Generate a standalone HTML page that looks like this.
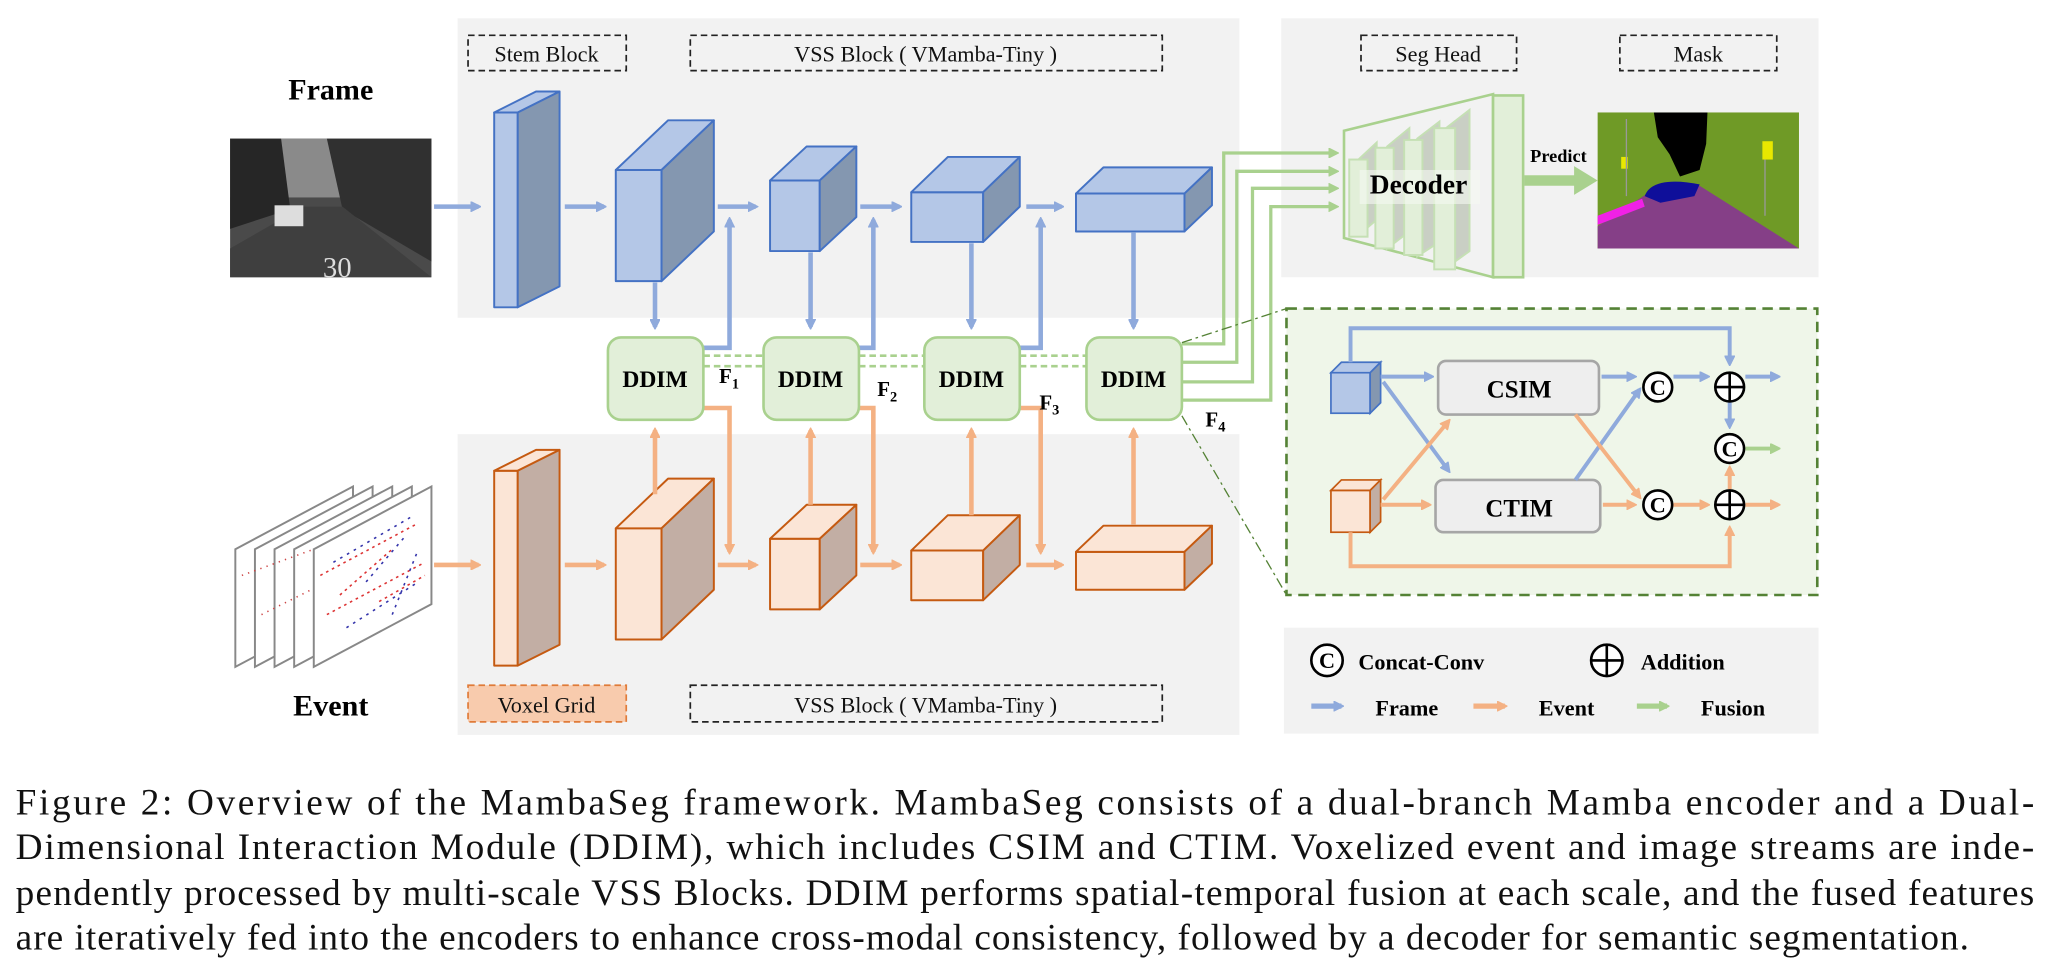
<!DOCTYPE html>
<html><head><meta charset="utf-8"><style>
html,body{margin:0;padding:0;background:#fff;}
svg{display:block;}
text{font-family:"Liberation Serif",serif;}
</style></head><body>
<svg width="2050" height="969" viewBox="0 0 1568 741" preserveAspectRatio="none" xmlns="http://www.w3.org/2000/svg">
<defs>
<marker id="ab" markerWidth="8" markerHeight="8" refX="6" refY="4" orient="auto" markerUnits="userSpaceOnUse"><path d="M0,0 L8,4 L0,8 L2,4 Z" fill="#8faadc" transform="scale(1.6) translate(-2.5,-1.5)"/></marker>
<marker id="ao" markerWidth="8" markerHeight="8" refX="6" refY="4" orient="auto" markerUnits="userSpaceOnUse"><path d="M0,0 L8,4 L0,8 L2,4 Z" fill="#f4b183" transform="scale(1.6) translate(-2.5,-1.5)"/></marker>
<marker id="ag" markerWidth="8" markerHeight="8" refX="6" refY="4" orient="auto" markerUnits="userSpaceOnUse"><path d="M0,0 L8,4 L0,8 L2,4 Z" fill="#a9d18e" transform="scale(1.6) translate(-2.5,-1.5)"/></marker>
</defs>
<rect width="1568" height="741" fill="#fff"/>
<rect x="350" y="14" width="598" height="229" fill="#f2f2f2"/>
<rect x="350" y="332" width="598" height="230" fill="#f2f2f2"/>
<rect x="980" y="14" width="411" height="198" fill="#f2f2f2"/>
<rect x="982" y="480" width="409" height="81" fill="#f2f2f2"/>
<rect x="984" y="236" width="406" height="219" fill="#eff6e9" stroke="#548235" stroke-width="2" stroke-dasharray="8,5"/>
<g fill="none" stroke="#222" stroke-width="1.3" stroke-dasharray="5,3">
<rect x="358" y="27" width="121" height="27"/><rect x="528" y="27" width="361" height="27"/>
<rect x="1041" y="27" width="119" height="27"/><rect x="1239" y="27" width="120" height="27"/>
<rect x="528" y="524" width="361" height="28"/>
</g>
<rect x="358" y="524" width="121" height="28" fill="#f8cbad" stroke="#e07b39" stroke-width="1.3" stroke-dasharray="5,3"/>
<g font-size="17" text-anchor="middle" fill="#111">
<text x="418" y="47">Stem Block</text><text x="708" y="47">VSS Block ( VMamba-Tiny )</text>
<text x="1100" y="47">Seg Head</text><text x="1299" y="47">Mask</text>
<text x="418" y="545">Voxel Grid</text><text x="708" y="545">VSS Block ( VMamba-Tiny )</text>
</g>
<text x="253" y="76" font-size="23" font-weight="bold" text-anchor="middle">Frame</text>
<text x="253" y="547" font-size="23" font-weight="bold" text-anchor="middle">Event</text>
<rect x="176" y="106" width="154" height="106" fill="#4a4a4a"/>
<rect x="176" y="106" width="154" height="45" fill="#8a8a8a"/>
<polygon points="176,106 215,106 222,160 176,175" fill="#262626"/>
<polygon points="250,106 330,106 330,200 262,160" fill="#303030"/>
<polygon points="176,190 232,158 262,158 330,212 176,212" fill="#3f3f3f"/>
<rect x="210" y="157" width="22" height="16" fill="#ddd"/>
<text x="247" y="212" font-size="22" fill="#ddd" font-family="Liberation Sans,sans-serif">30</text>
<g stroke="#888" stroke-width="1.5" fill="#fff">
<polygon points="180,420 270,372 270,462 180,510"/>
<polygon points="195,420 285,372 285,462 195,510"/>
<polygon points="210,420 300,372 300,462 210,510"/>
<polygon points="225,420 315,372 315,462 225,510"/>
<polygon points="240,420 330,372 330,462 240,510"/>
</g>
<g stroke-width="1.2">
<path d="M245,440 L320,400 M250,470 L325,430 M260,455 L300,420 M290,460 L325,440" stroke="#d33" stroke-dasharray="2,3"/>
<path d="M255,430 L315,395 M265,480 L320,445 M280,445 L310,410 M300,470 L320,420" stroke="#33a" stroke-dasharray="2,4"/>
<path d="M185,440 L240,420 M200,470 L240,450" stroke="#c44" stroke-dasharray="1,4"/>
</g>
<g stroke="#4472c4" stroke-width="1.5" stroke-linejoin="round">
<rect x="378" y="86" width="18" height="149" fill="#b4c7e7"/><polygon points="378,86 410,70 428,70 396,86" fill="#b4c7e7"/><polygon points="396,86 428,70 428,219 396,235" fill="#8497b0"/>
<rect x="471" y="130" width="35" height="85" fill="#b4c7e7"/><polygon points="471,130 511,92 546,92 506,130" fill="#b4c7e7"/><polygon points="506,130 546,92 546,177 506,215" fill="#8497b0"/>
<rect x="589" y="138" width="38" height="54" fill="#b4c7e7"/><polygon points="589,138 617,112 655,112 627,138" fill="#b4c7e7"/><polygon points="627,138 655,112 655,166 627,192" fill="#8497b0"/>
<rect x="697" y="147" width="55" height="38" fill="#b4c7e7"/><polygon points="697,147 725,120 780,120 752,147" fill="#b4c7e7"/><polygon points="752,147 780,120 780,158 752,185" fill="#8497b0"/>
<rect x="823" y="148" width="83" height="29" fill="#b4c7e7"/><polygon points="823,148 844,128 927,128 906,148" fill="#b4c7e7"/><polygon points="906,148 927,128 927,157 906,177" fill="#8497b0"/>
</g>
<g stroke="#c55a11" stroke-width="1.5" stroke-linejoin="round" transform="translate(0,274)">
<rect x="378" y="86" width="18" height="149" fill="#fbe5d6"/><polygon points="378,86 410,70 428,70 396,86" fill="#fbe5d6"/><polygon points="396,86 428,70 428,219 396,235" fill="#c2aea4"/>
<rect x="471" y="130" width="35" height="85" fill="#fbe5d6"/><polygon points="471,130 511,92 546,92 506,130" fill="#fbe5d6"/><polygon points="506,130 546,92 546,177 506,215" fill="#c2aea4"/>
<rect x="589" y="138" width="38" height="54" fill="#fbe5d6"/><polygon points="589,138 617,112 655,112 627,138" fill="#fbe5d6"/><polygon points="627,138 655,112 655,166 627,192" fill="#c2aea4"/>
<rect x="697" y="147" width="55" height="38" fill="#fbe5d6"/><polygon points="697,147 725,120 780,120 752,147" fill="#fbe5d6"/><polygon points="752,147 780,120 780,158 752,185" fill="#c2aea4"/>
<rect x="823" y="148" width="83" height="29" fill="#fbe5d6"/><polygon points="823,148 844,128 927,128 906,148" fill="#fbe5d6"/><polygon points="906,148 927,128 927,157 906,177" fill="#c2aea4"/>
</g>
<g stroke="#8faadc" stroke-width="3.5" fill="none" marker-end="url(#ab)">
<path d="M332,158 L366,158"/><path d="M432,158 L462,158"/><path d="M549,158 L578,158"/><path d="M658,158 L688,158"/><path d="M785,158 L812,158"/>
<path d="M501,216 L501,250"/><path d="M620,193 L620,250"/><path d="M743,186 L743,250"/><path d="M867,178 L867,250"/>
<path d="M538,266 L558,266 L558,168"/><path d="M657,266 L668,266 L668,168"/><path d="M780,266 L796,266 L796,168"/>
</g>
<g stroke="#f4b183" stroke-width="3.5" fill="none" marker-end="url(#ao)">
<path d="M332,432 L366,432"/><path d="M432,432 L462,432"/><path d="M549,432 L578,432"/><path d="M658,432 L688,432"/><path d="M785,432 L812,432"/>
<path d="M501,378 L501,329"/><path d="M620,386 L620,329"/><path d="M743,394 L743,329"/><path d="M867,401 L867,329"/>
<path d="M538,312 L558,312 L558,422"/><path d="M657,312 L668,312 L668,422"/><path d="M780,312 L796,312 L796,422"/>
</g>
<g stroke="#a9d18e" stroke-width="2" stroke-dasharray="5,3">
<path d="M538,272 L584,272 M538,280 L584,280 M657,272 L707,272 M657,280 L707,280 M780,272 L831,272 M780,280 L831,280"/>
</g>
<g fill="#e2efd9" stroke="#a9d18e" stroke-width="2">
<rect x="465" y="258" width="73" height="63" rx="10"/><rect x="584" y="258" width="73" height="63" rx="10"/>
<rect x="707" y="258" width="73" height="63" rx="10"/><rect x="831" y="258" width="73" height="63" rx="10"/>
</g>
<g font-size="18" font-weight="bold" text-anchor="middle">
<text x="501" y="296">DDIM</text><text x="620" y="296">DDIM</text><text x="743" y="296">DDIM</text><text x="867" y="296">DDIM</text>
</g>
<g font-size="16" font-weight="bold">
<text x="550" y="293">F<tspan font-size="11" dy="4">1</tspan></text>
<text x="671" y="303">F<tspan font-size="11" dy="4">2</tspan></text>
<text x="795" y="313">F<tspan font-size="11" dy="4">3</tspan></text>
<text x="922" y="326">F<tspan font-size="11" dy="4">4</tspan></text>
</g>
<g stroke="#a9d18e" stroke-width="2.5" fill="none" marker-end="url(#ag)">
<path d="M904,263 L936,263 L936,117 L1022,117"/>
<path d="M904,277 L946,277 L946,131 L1022,131"/>
<path d="M904,292 L958,292 L958,144 L1022,144"/>
<path d="M904,306 L972,306 L972,158 L1022,158"/>
</g>
<g stroke="#548235" stroke-width="1" stroke-dasharray="8,3,2,3" fill="none">
<path d="M904,262 L984,236"/><path d="M904,318 L984,455"/>
</g>
<polygon points="1028,100 1142,72 1142,212 1028,182" fill="#f2f2f2" stroke="#a9d18e" stroke-width="2"/>
<rect x="1142" y="73" width="23" height="139" fill="#e2efd9" stroke="#a9d18e" stroke-width="2"/>
<g stroke="#c5e0b4" stroke-width="1.5">
<polygon points="1039,122 1053,109 1053,168 1039,180" fill="#c9cfc4"/><rect x="1032" y="122" width="14" height="59" fill="#e2efd9"/>
<polygon points="1061,112 1078,98 1078,177 1061,190" fill="#c9cfc4"/><rect x="1052" y="113" width="14" height="77" fill="#e2efd9"/>
<polygon points="1084,106 1101,93 1101,185 1084,196" fill="#c9cfc4"/><rect x="1074" y="107" width="14" height="88" fill="#e2efd9"/>
<polygon points="1106,98 1124,84 1124,192 1106,205" fill="#c9cfc4"/><rect x="1097" y="98" width="16" height="108" fill="#e2efd9"/>
</g>
<rect x="1040" y="130" width="92" height="26" fill="#f5f9f2" opacity="0.6"/>
<text x="1085" y="148" font-size="21" font-weight="bold" text-anchor="middle">Decoder</text>
<text x="1192" y="124" font-size="14" font-weight="bold" text-anchor="middle">Predict</text>
<path d="M1166,138 L1206,138" stroke="#a9d18e" stroke-width="8"/>
<polygon points="1204,127 1222,138 1204,149" fill="#a9d18e"/>
<rect x="1222" y="86" width="154" height="104" fill="#6f9a26"/>
<path d="M1265,86 L1306,86 L1305,110 L1300,130 L1285,135 L1277,118 L1268,105 Z" fill="#000"/>
<polygon points="1222,173 1260,148 1300,142 1376,190 1222,190" fill="#853f87"/>
<polygon points="1222,165 1256,152 1258,158 1222,172" fill="#f021e6"/>
<path d="M1258,150 C1262,138 1280,137 1300,141 L1296,150 L1270,155 Z" fill="#0f0f9a"/>
<rect x="1348" y="108" width="8" height="14" fill="#e8e800"/><rect x="1240" y="120" width="5" height="9" fill="#e8e800"/>
<path d="M1244,91 L1244,150 M1350,122 L1350,165" stroke="#999" stroke-width="1"/>
<g stroke="#4472c4" stroke-width="1.3"><rect x="1018" y="285" width="30" height="31" fill="#b4c7e7"/><polygon points="1018,285 1026,277 1056,277 1048,285" fill="#b4c7e7"/><polygon points="1048,285 1056,277 1056,308 1048,316" fill="#8497b0"/></g>
<g stroke="#c55a11" stroke-width="1.3"><rect x="1018" y="375" width="30" height="32" fill="#fbe5d6"/><polygon points="1018,375 1026,367 1056,367 1048,375" fill="#fbe5d6"/><polygon points="1048,375 1056,367 1056,399 1048,407" fill="#c2aea4"/></g>
<g fill="#eeeeee" stroke="#a6a6a6" stroke-width="2"><rect x="1100" y="276" width="123" height="41" rx="6"/><rect x="1098" y="367" width="126" height="40" rx="6"/></g>
<text x="1162" y="304" font-size="19" font-weight="bold" text-anchor="middle">CSIM</text>
<text x="1162" y="395" font-size="19" font-weight="bold" text-anchor="middle">CTIM</text>
<g stroke="#8faadc" stroke-width="3" fill="none">
<path d="M1033,277 L1033,251 L1323,251 L1323,278" marker-end="url(#ab)"/>
<path d="M1056,288 L1095,288" marker-end="url(#ab)"/>
<path d="M1058,292 L1108,360" marker-end="url(#ab)"/>
<path d="M1225,288 L1250,288" marker-end="url(#ab)"/>
<path d="M1205,367 L1254,298" marker-end="url(#ab)"/>
<path d="M1280,288 L1306,288" marker-end="url(#ab)"/>
<path d="M1335,288 L1360,288" marker-end="url(#ab)"/>
<path d="M1323,300 L1323,326" marker-end="url(#ab)"/>
</g>
<g stroke="#f4b183" stroke-width="3" fill="none">
<path d="M1033,407 L1033,433 L1323,433 L1323,404" marker-end="url(#ao)"/>
<path d="M1056,386 L1093,386" marker-end="url(#ao)"/>
<path d="M1058,382 L1108,322" marker-end="url(#ao)"/>
<path d="M1226,386 L1250,386" marker-end="url(#ao)"/>
<path d="M1205,317 L1254,380" marker-end="url(#ao)"/>
<path d="M1280,386 L1306,386" marker-end="url(#ao)"/>
<path d="M1335,386 L1360,386" marker-end="url(#ao)"/>
<path d="M1323,374 L1323,358" marker-end="url(#ao)"/>
</g>
<path d="M1335,343 L1360,343" stroke="#a9d18e" stroke-width="3" marker-end="url(#ag)"/>
<g fill="#fff" stroke="#000" stroke-width="2">
<circle cx="1268" cy="296" r="11"/><circle cx="1323" cy="296" r="11"/><circle cx="1323" cy="343" r="11"/><circle cx="1268" cy="386" r="11"/><circle cx="1323" cy="386" r="11"/>
<circle cx="1015" cy="505" r="12"/><circle cx="1229" cy="505" r="12"/>
</g>
<g stroke="#000" stroke-width="2"><path d="M1312,296 L1334,296 M1323,285 L1323,307 M1312,386 L1334,386 M1323,375 L1323,397 M1217,505 L1241,505 M1229,493 L1229,517"/></g>
<g font-size="17" font-weight="bold" text-anchor="middle">
<text x="1268" y="302">C</text><text x="1323" y="349">C</text><text x="1268" y="392">C</text><text x="1015" y="511">C</text>
</g>
<g font-size="17" font-weight="bold">
<text x="1039" y="512">Concat-Conv</text><text x="1255" y="512">Addition</text>
<text x="1052" y="547">Frame</text><text x="1177" y="547">Event</text><text x="1301" y="547">Fusion</text>
</g>
<path d="M1003,540 L1026,540" stroke="#8faadc" stroke-width="4" marker-end="url(#ab)"/>
<path d="M1127,540 L1151,540" stroke="#f4b183" stroke-width="4" marker-end="url(#ao)"/>
<path d="M1252,540 L1275,540" stroke="#a9d18e" stroke-width="4" marker-end="url(#ag)"/>
<g font-size="28.5" fill="#111">
<text x="12" y="623" textLength="1544" lengthAdjust="spacing">Figure 2: Overview of the MambaSeg framework. MambaSeg consists of a dual-branch Mamba encoder and a Dual-</text>
<text x="12" y="657" textLength="1544" lengthAdjust="spacing">Dimensional Interaction Module (DDIM), which includes CSIM and CTIM. Voxelized event and image streams are inde-</text>
<text x="12" y="692" textLength="1544" lengthAdjust="spacing">pendently processed by multi-scale VSS Blocks. DDIM performs spatial-temporal fusion at each scale, and the fused features</text>
<text x="12" y="726" textLength="1494" lengthAdjust="spacing">are iteratively fed into the encoders to enhance cross-modal consistency, followed by a decoder for semantic segmentation.</text>
</g>
</svg>
</body></html>
